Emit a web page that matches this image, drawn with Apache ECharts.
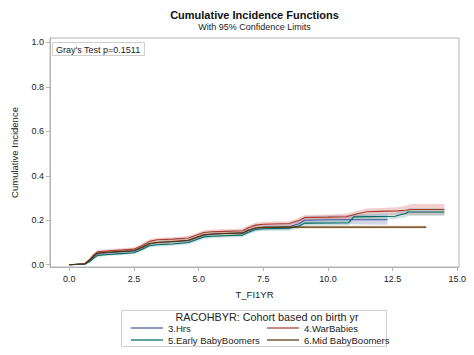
<!DOCTYPE html>
<html><head><meta charset="utf-8">
<script src="https://cdn.jsdelivr.net/npm/echarts@6/dist/echarts.min.js"></script>
<style>html,body{margin:0;padding:0;background:#fff}#c{width:474px;height:355px}</style>
</head><body><div id="c"></div>
<script>
// ---- data ----
const xTicks = [0, 2.5, 5, 7.5, 10, 12.5, 15];
const yTicks = [0, 0.2, 0.4, 0.6, 0.8, 1.0];
const groupNames = ['3.Hrs', '4.WarBabies', '5.Early BabyBoomers', '6.Mid BabyBoomers'];

const hrsTime  = [0,0.6,0.8,0.95,1.1,1.5,2.0,2.5,2.8,3.1,3.4,4.0,4.6,4.9,5.2,5.5,6.0,6.7,6.9,7.2,7.5,8.5,8.9,9.1,10.0,12.3];
const hrsCif   = [0,0.003,0.02,0.038,0.05,0.054,0.058,0.062,0.075,0.093,0.1,0.103,0.108,0.12,0.133,0.137,0.14,0.142,0.152,0.165,0.168,0.17,0.185,0.2,0.202,0.202];
const hrsLower = [0,0.001,0.014,0.03,0.042,0.046,0.05,0.054,0.066,0.084,0.091,0.094,0.098,0.11,0.122,0.126,0.129,0.131,0.14,0.153,0.155,0.157,0.17,0.182,0.183,0.18];
const hrsUpper = [0,0.005,0.026,0.046,0.058,0.062,0.066,0.07,0.084,0.102,0.109,0.112,0.118,0.13,0.144,0.148,0.151,0.153,0.164,0.177,0.181,0.183,0.2,0.218,0.221,0.226];

const warTime  = [0,0.6,0.8,0.95,1.1,1.5,2.0,2.5,2.8,3.1,3.4,4.0,4.6,4.9,5.2,5.5,6.0,6.7,6.9,7.2,7.5,8.5,8.9,9.1,10.0,10.7,11.1,11.5,12.0,12.7,13.0,13.2,14.5];
const warCif   = [0,0.005,0.025,0.045,0.058,0.062,0.066,0.07,0.085,0.105,0.112,0.115,0.12,0.132,0.145,0.148,0.15,0.153,0.165,0.178,0.182,0.185,0.2,0.212,0.214,0.216,0.228,0.238,0.24,0.242,0.245,0.248,0.248];
const warLower = [0,0.002,0.019,0.037,0.05,0.054,0.058,0.062,0.076,0.096,0.103,0.106,0.111,0.122,0.135,0.138,0.14,0.143,0.154,0.167,0.171,0.174,0.188,0.2,0.202,0.203,0.214,0.223,0.225,0.225,0.225,0.223,0.223];
const warUpper = [0,0.008,0.031,0.053,0.066,0.07,0.074,0.078,0.094,0.114,0.121,0.124,0.129,0.142,0.155,0.158,0.16,0.163,0.176,0.189,0.193,0.196,0.212,0.224,0.226,0.229,0.242,0.253,0.255,0.259,0.265,0.273,0.273];

const earlyTime  = [0,0.6,0.8,0.95,1.1,1.5,2.0,2.5,2.8,3.1,3.4,4.0,4.6,4.9,5.2,5.5,6.0,6.7,6.9,7.2,7.5,8.5,8.9,9.1,10.8,11.0,12.6,12.8,13.0,13.1,14.5];
const earlyCif   = [0,0.002,0.015,0.03,0.042,0.046,0.05,0.054,0.068,0.085,0.09,0.093,0.1,0.112,0.125,0.128,0.13,0.133,0.145,0.158,0.162,0.164,0.175,0.187,0.189,0.215,0.218,0.225,0.23,0.237,0.237];
const earlyLower = [0,0,0.009,0.023,0.035,0.039,0.043,0.047,0.06,0.077,0.082,0.085,0.091,0.103,0.116,0.119,0.121,0.124,0.135,0.148,0.152,0.153,0.164,0.175,0.177,0.202,0.204,0.21,0.214,0.22,0.22];
const earlyUpper = [0,0.004,0.021,0.037,0.049,0.053,0.057,0.061,0.076,0.093,0.098,0.101,0.109,0.121,0.134,0.137,0.139,0.142,0.155,0.168,0.172,0.175,0.186,0.199,0.201,0.228,0.232,0.24,0.246,0.254,0.254];

const midTime  = [0,0.6,0.8,0.95,1.1,1.5,2.0,2.5,2.8,3.1,3.4,4.0,4.6,4.9,5.2,5.5,6.0,6.7,6.9,7.2,7.5,8.5,13.8];
const midCif   = [0,0.004,0.022,0.04,0.052,0.056,0.06,0.063,0.078,0.095,0.1,0.104,0.11,0.122,0.135,0.138,0.14,0.143,0.155,0.165,0.168,0.169,0.169];
const midLower = [0,0.002,0.017,0.034,0.046,0.05,0.054,0.057,0.071,0.088,0.093,0.097,0.103,0.115,0.128,0.131,0.133,0.136,0.148,0.158,0.161,0.162,0.162];
const midUpper = [0,0.006,0.027,0.046,0.058,0.062,0.066,0.069,0.085,0.102,0.107,0.111,0.117,0.129,0.142,0.145,0.147,0.15,0.162,0.172,0.175,0.176,0.176];

const grayTest = "Gray's Test p=0.1511";

// ---- build chart ----
const lineColors = ['#445694', '#A23A2E', '#01665E', '#543005'];
const bandColors = ['rgba(111,126,179,0.32)', 'rgba(214,96,96,0.30)', 'rgba(102,175,170,0.32)', 'rgba(230,180,125,0.35)'];
const groups = [
  [hrsTime, hrsCif, hrsLower, hrsUpper],
  [warTime, warCif, warLower, warUpper],
  [earlyTime, earlyCif, earlyLower, earlyUpper],
  [midTime, midCif, midLower, midUpper]
];
const FONT = '"Liberation Sans", Arial, sans-serif';
const series = [];
// confidence bands: one polygon per group, mapped through the axes with api.coord
series.push({
  type: 'custom', silent: true, z: 1, clip: true,
  data: groups.map((g, k) => [g[0][0], g[2][0], k]),
  encode: { x: 0, y: 1 },
  renderItem: function (params, api) {
    const k = api.value(2);
    const [t, c, lo, up] = groups[k];
    const pts = [];
    for (let i = 0; i < t.length; i++) pts.push(api.coord([t[i], up[i]]));
    for (let i = t.length - 1; i >= 0; i--) pts.push(api.coord([t[i], lo[i]]));
    return { type: 'polygon', shape: { points: pts }, style: { fill: bandColors[k], stroke: null } };
  }
});
groups.forEach((g, k) => {
  const [t, c] = g;
  series.push({
    type: 'line', name: groupNames[k], symbol: 'none', silent: true,
    data: t.map((x, i) => [x, c[i]]),
    itemStyle: { color: lineColors[k] },
    lineStyle: { color: lineColors[k], width: 1.1 }, z: 3
  });
});

const legendCommon = {
  orient: 'vertical', icon: 'rect', itemWidth: 32, itemHeight: 1.2, itemGap: 2,
  textStyle: { fontFamily: FONT, fontSize: 9.5, color: '#222' }, selectedMode: false
};

const chart = echarts.init(document.getElementById('c'), null, { renderer: 'svg' });
chart.setOption({
  animation: false,
  backgroundColor: '#fff',
  grid: { left: 50, top: 38, right: 15, bottom: 88, show: true, borderColor: '#b4b4b4', borderWidth: 1, backgroundColor: 'transparent' },
  xAxis: {
    type: 'value', min: -0.746, max: 15.066,
    name: 'T_FI1YR', nameLocation: 'middle', nameGap: 22,
    nameTextStyle: { fontFamily: FONT, fontSize: 9.5, color: '#222' },
    axisLine: { onZero: false, lineStyle: { color: '#b4b4b4' } },
    axisTick: { show: true, length: 4, lineStyle: { color: '#b4b4b4' }, customValues: xTicks },
    axisLabel: { fontFamily: FONT, fontSize: 9, color: '#222', margin: 7, customValues: xTicks, formatter: v => v.toFixed(1) },
    splitLine: { show: false }
  },
  yAxis: {
    type: 'value', min: -0.0104, max: 1.02,
    name: 'Cumulative Incidence', nameLocation: 'middle', nameGap: 31,
    nameTextStyle: { fontFamily: FONT, fontSize: 9.5, color: '#222' },
    axisLine: { show: true, onZero: false, lineStyle: { color: '#b4b4b4' } },
    axisTick: { show: true, length: 4, lineStyle: { color: '#b4b4b4' }, customValues: yTicks },
    axisLabel: { fontFamily: FONT, fontSize: 9, color: '#222', margin: 6, customValues: yTicks, formatter: v => v.toFixed(1) },
    splitLine: { show: false }
  },
  legend: [
    Object.assign({ left: 126, top: 318, data: [groupNames[0], groupNames[2]] }, legendCommon),
    Object.assign({ left: 262, top: 318, data: [groupNames[1], groupNames[3]] }, legendCommon)
  ],
  graphic: [
    { type: 'text', style: { x: 254.5, y: 15, text: 'Cumulative Incidence Functions', font: 'bold 11px ' + FONT, fill: '#111', align: 'center', verticalAlign: 'middle' } },
    { type: 'text', style: { x: 254.5, y: 27, text: 'With 95% Confidence Limits', font: '9px ' + FONT, fill: '#222', align: 'center', verticalAlign: 'middle' } },
    { type: 'rect', shape: { x: 52.5, y: 42.5, width: 92, height: 13 }, style: { fill: '#fff', stroke: '#cfcfcf', lineWidth: 1 } },
    { type: 'text', style: { x: 56, y: 49.5, text: grayTest, font: '9px ' + FONT, fill: '#222', verticalAlign: 'middle' } },
    { type: 'rect', shape: { x: 121.5, y: 310.5, width: 265, height: 36 }, style: { fill: 'none', stroke: '#cfcfcf', lineWidth: 1 } },
    { type: 'text', style: { x: 267, y: 316.5, text: 'RACOHBYR: Cohort based on birth yr', font: '10.8px ' + FONT, fill: '#222', align: 'center', verticalAlign: 'middle' } }
  ],
  series: series
});
</script></body></html>
